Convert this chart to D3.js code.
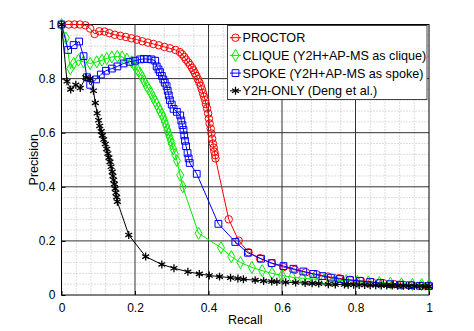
<!DOCTYPE html>
<html><head><meta charset="utf-8">
<script src="https://cdn.jsdelivr.net/npm/d3@7"></script>
<style>body{margin:0;background:#fff;} svg{display:block;font-family:"Liberation Sans",Arial,sans-serif;}</style>
</head><body>
<svg id="chart" width="474" height="331"></svg>
<script>
const xTicks = [0, 0.2, 0.4, 0.6, 0.8, 1];
const yTicks = [0, 0.2, 0.4, 0.6, 0.8, 1];
const xTickLabels = ["0", "0.2", "0.4", "0.6", "0.8", "1"];
const yTickLabels = ["0", "0.2", "0.4", "0.6", "0.8", "1"];
const seriesNames = ["PROCTOR", "CLIQUE (Y2H+AP-MS as clique)", "SPOKE (Y2H+AP-MS as spoke)", "Y2H-ONLY (Deng et al.)"];

const proctor = [[0,1],[0.02,1],[0.035,1],[0.05,1],[0.065,0.997],[0.078,0.985],[0.09,0.965],[0.103,0.975],[0.117,0.974],[0.13,0.968],[0.145,0.962],[0.16,0.958],[0.175,0.954],[0.19,0.949],[0.205,0.944],[0.22,0.938],[0.235,0.933],[0.25,0.928],[0.265,0.923],[0.28,0.917],[0.295,0.912],[0.31,0.906],[0.322,0.898],[0.328,0.89],[0.334,0.88],[0.339,0.87],[0.345,0.86],[0.35,0.85],[0.355,0.84],[0.359,0.831],[0.363,0.82],[0.367,0.81],[0.371,0.798],[0.375,0.786],[0.379,0.773],[0.382,0.76],[0.385,0.746],[0.388,0.733],[0.391,0.72],[0.393,0.706],[0.396,0.69],[0.399,0.671],[0.401,0.652],[0.403,0.634],[0.406,0.615],[0.408,0.597],[0.41,0.578],[0.412,0.56],[0.414,0.545],[0.416,0.53],[0.418,0.517],[0.419,0.505],[0.455,0.28],[0.482,0.201],[0.509,0.158],[0.54,0.136],[0.572,0.117],[0.604,0.103],[0.635,0.093],[0.665,0.084],[0.695,0.076],[0.725,0.068],[0.755,0.062],[0.785,0.056],[0.815,0.052],[0.845,0.048],[0.875,0.044],[0.905,0.04],[0.93,0.038],[0.955,0.036],[0.98,0.034],[1.0,0.032]];

const clique = [[0,1],[0.012,0.95],[0.024,0.837],[0.033,0.856],[0.046,0.868],[0.06,0.862],[0.078,0.856],[0.096,0.862],[0.11,0.868],[0.123,0.874],[0.137,0.88],[0.152,0.882],[0.165,0.88],[0.178,0.872],[0.191,0.862],[0.2,0.846],[0.207,0.832],[0.214,0.819],[0.22,0.805],[0.225,0.79],[0.232,0.772],[0.238,0.76],[0.244,0.745],[0.25,0.729],[0.255,0.716],[0.259,0.706],[0.264,0.692],[0.268,0.68],[0.273,0.668],[0.277,0.656],[0.281,0.64],[0.285,0.625],[0.288,0.61],[0.291,0.597],[0.294,0.585],[0.297,0.572],[0.3,0.558],[0.304,0.54],[0.309,0.52],[0.314,0.497],[0.323,0.443],[0.33,0.4],[0.373,0.228],[0.434,0.175],[0.462,0.142],[0.487,0.12],[0.518,0.102],[0.546,0.09],[0.573,0.08],[0.6,0.072],[0.627,0.066],[0.655,0.062],[0.685,0.059],[0.715,0.057],[0.745,0.055],[0.775,0.053],[0.805,0.05],[0.835,0.048],[0.865,0.046],[0.895,0.044],[0.925,0.041],[0.955,0.039],[0.98,0.038],[1.0,0.037]];

const spoke = [[0,1],[0.018,0.906],[0.033,0.924],[0.048,0.937],[0.06,0.883],[0.069,0.805],[0.078,0.777],[0.094,0.797],[0.107,0.815],[0.121,0.829],[0.137,0.837],[0.152,0.845],[0.169,0.856],[0.185,0.862],[0.2,0.866],[0.214,0.871],[0.224,0.873],[0.234,0.872],[0.245,0.871],[0.255,0.866],[0.259,0.845],[0.264,0.834],[0.268,0.824],[0.273,0.81],[0.277,0.797],[0.281,0.785],[0.286,0.772],[0.289,0.755],[0.292,0.738],[0.295,0.72],[0.3,0.704],[0.305,0.688],[0.314,0.677],[0.323,0.664],[0.326,0.645],[0.329,0.628],[0.332,0.61],[0.334,0.59],[0.336,0.57],[0.339,0.55],[0.343,0.525],[0.346,0.505],[0.349,0.488],[0.368,0.448],[0.427,0.263],[0.473,0.196],[0.507,0.156],[0.543,0.134],[0.572,0.118],[0.604,0.107],[0.631,0.097],[0.658,0.087],[0.685,0.078],[0.71,0.07],[0.733,0.064],[0.758,0.059],[0.785,0.055],[0.812,0.052],[0.84,0.048],[0.867,0.044],[0.894,0.04],[0.921,0.038],[0.948,0.036],[0.975,0.034],[1.0,0.033]];

const y2hOnly = [[0,1],[0.015,0.79],[0.025,0.76],[0.039,0.777],[0.051,0.765],[0.066,0.804],[0.078,0.8],[0.087,0.755],[0.092,0.71],[0.097,0.672],[0.101,0.646],[0.104,0.625],[0.108,0.605],[0.111,0.59],[0.115,0.575],[0.119,0.558],[0.123,0.54],[0.126,0.523],[0.129,0.508],[0.132,0.492],[0.135,0.474],[0.138,0.455],[0.14,0.44],[0.142,0.425],[0.144,0.41],[0.146,0.393],[0.148,0.378],[0.15,0.362],[0.152,0.345],[0.183,0.222],[0.229,0.142],[0.273,0.113],[0.306,0.099],[0.344,0.086],[0.375,0.078],[0.402,0.072],[0.43,0.068],[0.46,0.064],[0.48,0.061],[0.495,0.058],[0.527,0.055],[0.55,0.052],[0.572,0.05],[0.586,0.049],[0.61,0.047],[0.637,0.046],[0.663,0.044],[0.682,0.043],[0.7,0.042],[0.726,0.04],[0.745,0.039],[0.77,0.039],[0.78,0.038],[0.795,0.038],[0.81,0.037],[0.825,0.037],[0.84,0.036],[0.855,0.036],[0.87,0.035],[0.885,0.035],[0.9,0.035],[0.915,0.034],[0.93,0.034],[0.945,0.033],[0.96,0.033],[0.975,0.033],[0.99,0.032],[1.0,0.032]];

const allSeries = [proctor, clique, spoke, y2hOnly];
const colors = ["#ff0000", "#00ee00", "#0000ff", "#000000"];
const symbols = [d3.symbolCircle, d3.symbolDiamond, d3.symbolSquare, d3.symbolAsterisk];
const symSizes = [44, 42, 46, 44];

const svg = d3.select("#chart");
const L = 61.5, R = 429, T = 24.5, B = 295;
const x = d3.scaleLinear().domain([0, 1]).range([L, R]);
const y = d3.scaleLinear().domain([0, 1]).range([B, T]);

svg.append("rect").attr("x", L).attr("y", T).attr("width", R - L).attr("height", B - T).attr("fill", "#fff");

// minor grid
const minor = d3.range(0.04, 1, 0.04).filter(v => Math.abs(v / 0.2 - Math.round(v / 0.2)) > 1e-6);
const g = svg.append("g");
g.selectAll(".mx").data(minor).enter().append("line")
  .attr("x1", d => x(d)).attr("x2", d => x(d)).attr("y1", T).attr("y2", B)
  .attr("stroke", "#aaa").attr("stroke-width", 0.8).attr("stroke-dasharray", "1,2");
g.selectAll(".my").data(minor).enter().append("line")
  .attr("y1", d => y(d)).attr("y2", d => y(d)).attr("x1", L).attr("x2", R)
  .attr("stroke", "#aaa").attr("stroke-width", 0.8).attr("stroke-dasharray", "1,2");
// major grid
g.selectAll(".Mx").data(xTicks.slice(1, -1)).enter().append("line")
  .attr("x1", d => x(d)).attr("x2", d => x(d)).attr("y1", T).attr("y2", B)
  .attr("stroke", "#333").attr("stroke-width", 1);
g.selectAll(".My").data(yTicks.slice(1, -1)).enter().append("line")
  .attr("y1", d => y(d)).attr("y2", d => y(d)).attr("x1", L).attr("x2", R)
  .attr("stroke", "#333").attr("stroke-width", 1);

// axes
const xAxis = d3.axisBottom(x).tickValues(xTicks).tickFormat((d, i) => xTickLabels[i]).tickSizeInner(-4).tickSizeOuter(0).tickPadding(8);
const yAxis = d3.axisLeft(y).tickValues(yTicks).tickFormat((d, i) => yTickLabels[i]).tickSizeInner(-4).tickSizeOuter(0).tickPadding(6);
const gx = svg.append("g").attr("transform", `translate(0,${B})`).call(xAxis);
const gy = svg.append("g").attr("transform", `translate(${L},0)`).call(yAxis);
[gx, gy].forEach(a => {
  a.select(".domain").remove();
  a.selectAll("text").attr("font-size", 12).attr("fill", "#000").attr("font-family", "Liberation Sans, Arial, sans-serif");
  a.selectAll("line").attr("stroke", "#000");
});

svg.append("rect").attr("x", L).attr("y", T).attr("width", R - L).attr("height", B - T)
  .attr("fill", "none").attr("stroke", "#000").attr("stroke-width", 1);

// series
const line = d3.line().x(d => x(d[0])).y(d => y(d[1]));
allSeries.forEach((s, i) => {
  const sg = svg.append("g");
  sg.append("path").attr("d", line(s)).attr("fill", "none").attr("stroke", colors[i]).attr("stroke-width", 1);
  sg.selectAll("path.m").data(s).enter().append("path").attr("class", "m")
    .attr("transform", d => `translate(${x(d[0])},${y(d[1])})`)
    .attr("d", d3.symbol().type(symbols[i]).size(symSizes[i]))
    .attr("fill", "none").attr("stroke", colors[i]).attr("stroke-width", i === 3 ? 1.3 : 1);
});

// labels
svg.append("text").attr("x", (L + R) / 2).attr("y", 324).attr("text-anchor", "middle")
  .attr("font-size", 12.5).text("Recall");
svg.append("text").attr("transform", `translate(38,${(T + B) / 2}) rotate(-90)`).attr("text-anchor", "middle")
  .attr("font-size", 12.5).text("Precision");

// legend
const lg = svg.append("g");
lg.append("rect").attr("x", 227.5).attr("y", 25.5).attr("width", 199.5).attr("height", 74)
  .attr("fill", "#fff").attr("stroke", "#444").attr("stroke-width", 1);
seriesNames.forEach((name, i) => {
  const yy = 37.7 + i * 17.7;
  lg.append("line").attr("x1", 230).attr("x2", 241).attr("y1", yy).attr("y2", yy).attr("stroke", colors[i]);
  lg.append("path").attr("transform", `translate(235.5,${yy})`).attr("d", d3.symbol().type(symbols[i]).size(symSizes[i]))
    .attr("fill", "none").attr("stroke", colors[i]).attr("stroke-width", i === 3 ? 1.3 : 1);
  lg.append("text").attr("x", 242.5).attr("y", yy + 4.5).attr("font-size", 12.6).attr("fill", "#000").text(name);
});
</script>
</body></html>
